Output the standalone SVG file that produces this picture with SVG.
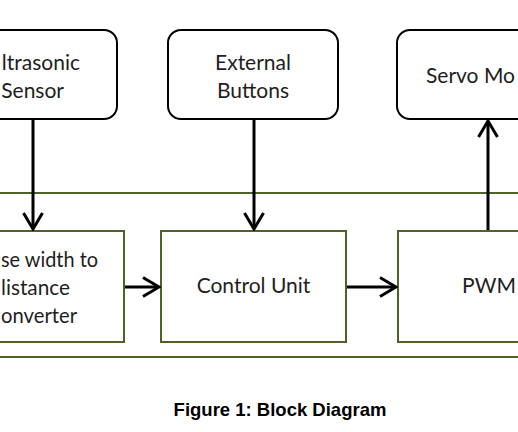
<svg xmlns="http://www.w3.org/2000/svg" width="518" height="432" viewBox="0 0 518 432">
  <defs>
    <style>
      .ext { fill: #ffffff; stroke: #000000; stroke-width: 2; }
      .blk { fill: #ffffff; stroke: #4f6228; stroke-width: 2; }
      .frame { fill: none; stroke: #4f6228; stroke-width: 2; }
      .lbl { font-family: Lato, "Liberation Sans", sans-serif; font-size: 21px; fill: #1e1e1e; text-anchor: middle; }
      .end { text-anchor: end; }
      .start { text-anchor: start; }
      .cap { font-family: "Liberation Sans", Arial, sans-serif; font-size: 18.5px; font-weight: bold; fill: #000000; text-anchor: middle; }
      .wire { fill: none; stroke: #000000; stroke-width: 3; marker-end: url(#arrow); }
    </style>
    <marker id="arrow" markerUnits="userSpaceOnUse" viewBox="0 0 20 22" refX="18" refY="11" markerWidth="20" markerHeight="22" orient="auto">
      <path d="M2,1.5 L18,11 L2,20.5" fill="none" stroke="#000000" stroke-width="3" stroke-linejoin="miter"/>
    </marker>
  </defs>

  <rect id="system-frame" class="frame" x="-20" y="193" width="560" height="164"/>

  <g id="ultrasonic-sensor">
    <rect class="ext" x="-51" y="30" width="168" height="89" rx="13" ry="13"/>
    <text class="lbl end" x="80" y="70">ltrasonic</text>
    <text class="lbl end" x="64" y="98">Sensor</text>
  </g>

  <g id="external-buttons">
    <rect class="ext" x="168" y="30" width="170" height="89" rx="13" ry="13"/>
    <text class="lbl" x="253" y="70">External</text>
    <text class="lbl" x="253" y="98">Buttons</text>
  </g>

  <g id="servo-motor">
    <rect class="ext" x="397" y="30" width="180" height="89" rx="13" ry="13"/>
    <text class="lbl start" x="426" y="83">Servo Mo</text>
  </g>

  <g id="pulse-converter">
    <rect class="blk" x="-58" y="231" width="182" height="111"/>
    <text class="lbl start" x="1" y="267" textLength="97" lengthAdjust="spacingAndGlyphs">se width to</text>
    <text class="lbl start" x="1" y="295" textLength="69" lengthAdjust="spacingAndGlyphs">listance</text>
    <text class="lbl start" x="1" y="323" textLength="76" lengthAdjust="spacingAndGlyphs">onverter</text>
  </g>

  <g id="control-unit">
    <rect class="blk" x="161" y="231" width="185" height="111"/>
    <text class="lbl" x="253.5" y="293">Control Unit</text>
  </g>

  <g id="pwm">
    <rect class="blk" x="398" y="231" width="182" height="111"/>
    <text class="lbl" x="489" y="293">PWM</text>
  </g>

  <g id="connectors">
    <path class="wire" d="M33,119 L33,229"/>
    <path class="wire" d="M254,119 L254,229"/>
    <path class="wire" d="M488,230 L488,121"/>
    <path class="wire" d="M125,287 L159,287"/>
    <path class="wire" d="M347,287 L396,287"/>
  </g>

  <text id="caption" class="cap" x="280" y="416">Figure 1: Block Diagram</text>
</svg>
